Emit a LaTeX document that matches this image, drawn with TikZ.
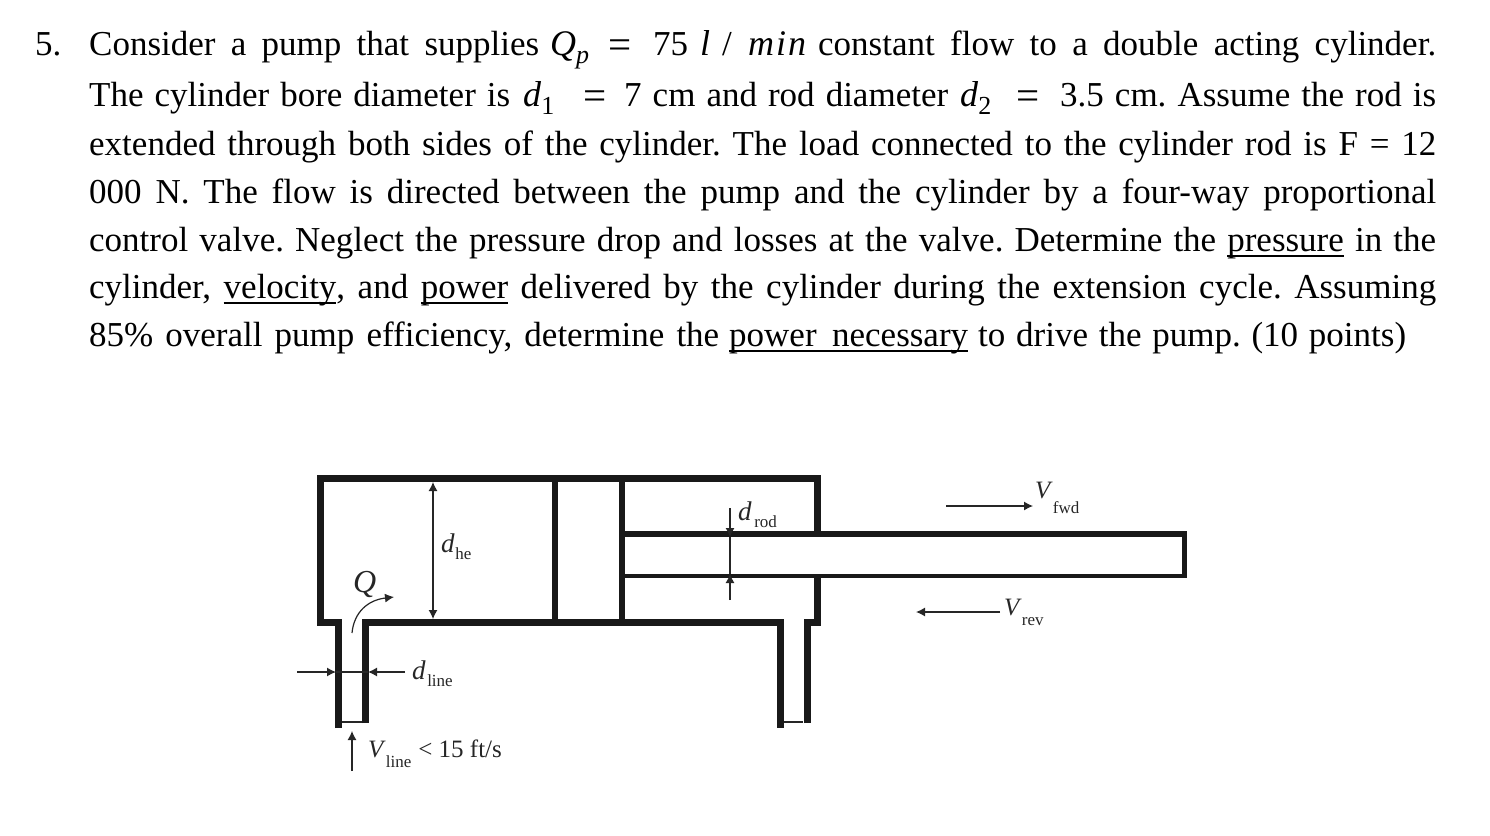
\documentclass[tikz,border=0pt]{standalone}
\usepackage{fontspec}
\setmainfont{Liberation Serif}
\usetikzlibrary{arrows.meta,calc}
\newcommand{\mv}[1]{{\fontsize{36}{36}\selectfont\textit{#1}}}
\newcommand{\sbs}[1]{\raisebox{-0.25em}{\fontsize{26}{26}\selectfont #1}}
\newcommand{\lbl}[2]{{\fontsize{27}{27}\selectfont\textit{#1}}\raisebox{-7.5pt}{\fontsize{17}{17}\selectfont #2}}
\newcommand{\vlbl}[3]{{\fontsize{25}{25}\selectfont\textit{#1}}\raisebox{#2}{\fontsize{17}{17}\selectfont #3}}
\newcommand{\ful}[2]{\makebox[#1][s]{\frenchspacing #2}}
\newcommand{\fixw}[2]{\makebox[#1][l]{#2}}
\newcommand{\eqs}{\raisebox{-3pt}{\fontsize{41}{41}\selectfont =}}
\newsavebox{\ulbox}
\newcommand{\ull}[1]{\sbox{\ulbox}{#1}\rlap{\rule[-5.5pt]{\wd\ulbox}{1.8pt}}\usebox{\ulbox}}
\tikzset{
  x=1pt,y=-1pt,
  textline/.style={anchor=base west,inner sep=0pt,font=\fontsize{35}{35}\selectfont},
  wall/.style={line width=7pt,line cap=butt,line join=miter,black!90},
  rodwall/.style={line width=5pt,line cap=butt,line join=miter,black!90},
  thin/.style={line width=1.2pt,black!85},
  dim/.style={line width=1.2pt,black!85,-{Latex[length=9pt,width=9pt]}},
  dimboth/.style={line width=1.2pt,black!85,{Latex[length=9pt,width=9pt]}-{Latex[length=9pt,width=9pt]}},
  lab/.style={inner sep=0pt,anchor=base west,black!85}
}
\begin{document}
\begin{tikzpicture}
\useasboundingbox (0,0) rectangle (1490,835);
% text
\node[textline] (num) at (35,55) {5.};
\node[textline] (l1) at (89,55) {\ful{450pt}{Consider a pump that supplies}\hspace{11pt}\fixw{58pt}{\mv{Q}\sbs{\textit{p}}}\fixw{45pt}{\eqs}\fixw{47pt}{75}\fixw{22pt}{\mv{l}}\fixw{26pt}{/}\fixw{70pt}{\mv{m\kern2pt i\kern2pt n}}\ful{618pt}{constant flow to a double acting cylinder.}};
\node[textline] (l2) at (89,106) {\ful{421pt}{The cylinder bore diameter is}\hspace{13pt}\fixw{60pt}{\mv{d}\sbs{1}}\fixw{41pt}{\eqs}\ful{324pt}{7 cm and rod diameter}\hspace{12pt}\fixw{56pt}{\mv{d}\sbs{2}}\fixw{44pt}{\eqs}\ful{376pt}{3.5 cm. Assume the rod is}};
\node[textline] (l3) at (89,155) {\ful{1347pt}{extended through both sides of the cylinder. The load connected to the cylinder rod is F = 12}};
\node[textline] (l4) at (89,203) {\ful{1347pt}{000 N. The flow is directed between the pump and the cylinder by a four-way proportional}};
\node[textline] (l5) at (89,251) {\ful{1347pt}{control valve. Neglect the pressure drop and losses at the valve. Determine the \ull{pressure} in the}};
\node[textline] (l6) at (89,298) {\ful{1347pt}{cylinder, \ull{velocity}, and \ull{power} delivered by the cylinder during the extension cycle. Assuming}};
\node[textline] (l7) at (89,346) {\ful{630pt}{85\% overall pump efficiency, determine the}\hspace{10pt}\ull{\ful{239pt}{power necessary}}\hspace{10pt}\ful{428pt}{to drive the pump. (10 points)}};
% cylinder body
\draw[wall] (338.5,728) -- (338.5,622.5) -- (320,622.5) -- (320,478) -- (817,478) -- (817,534);
\draw[wall] (365.5,723) -- (365.5,622.5) -- (780.5,622.5) -- (780.5,728);
\draw[wall] (807,723) -- (807,622.5) -- (817,622.5) -- (817,576);
\draw[thin] (342,722) -- (362,722);
\draw[thin] (784,722) -- (803,722);
% piston
\draw[line width=6pt,black!90] (555,481) -- (555,620);
\draw[line width=6pt,black!90] (622,481) -- (622,620);
% rod
\draw[rodwall,line width=6pt] (622,534) -- (1186,534);
\draw[rodwall,line width=4.5pt] (622,576) -- (1186,576);
\draw[rodwall] (1184,531) -- (1184,578);
% d he
\coordinate (heT) at (433,482);
\coordinate (heB) at (433,619);
\draw[dimboth] (heT) -- (heB);
\node[lab] (dhe) at (441,552) {\lbl{d}{\kern.5pt he}};
% Q
\node[lab] (q) at (353,592) {\fontsize{32}{32}\selectfont\textit{Q}};
\coordinate (qs) at (352,633);
\coordinate (qe) at (394,597);
\draw[dim] (qs) .. controls (354,612) and (368,600) .. (qe);
% d line
\coordinate (dl0) at (297,672);
\coordinate (dl1) at (336,672);
\coordinate (dl2) at (368,672);
\node[lab] (dline) at (412,679) {\lbl{d}{\kern1.5pt line}};
\draw[dim] (dl0) -- (dl1);
\draw[dim] ($(dline.west |- dl2)+(-7,0)$) -- (dl2);
\draw[thin] (dl1) -- (dl2);
% V line
\coordinate (vl0) at (352,771);
\coordinate (vl1) at (352,731);
\draw[dim] (vl0) -- (vl1);
\node[lab] (vline) at (368,757) {\vlbl{V}{-10pt}{line}\hspace{7pt}{\fontsize{25}{25}\selectfont < 15 ft/s}};
% d rod
\coordinate (dr0) at (730,508);
\coordinate (dr1) at (730,537);
\coordinate (dr2) at (730,574);
\coordinate (dr3) at (730,600);
\draw[dim] (dr0) -- (dr1);
\draw[dim] (dr3) -- (dr2);
\draw[thin] (dr1) -- (dr2);
\node[lab] (drod) at (738,520) {\lbl{d}{\kern2.5pt rod}};
% V fwd
\coordinate (vf0) at (946,506);
\coordinate (vf1) at (1033,506);
\draw[dim] (vf0) -- (vf1);
\node[lab] (vfwd) at (1035,498) {\vlbl{V}{-15pt}{fwd}};
% V rev
\coordinate (vr1) at (916,612);
\node[lab] (vrev) at (1004,615) {\vlbl{V}{-10pt}{rev}};
\draw[dim] ($(vrev.west |- vr1)+(-4,0)$) -- (vr1);
\end{tikzpicture}
\end{document}
